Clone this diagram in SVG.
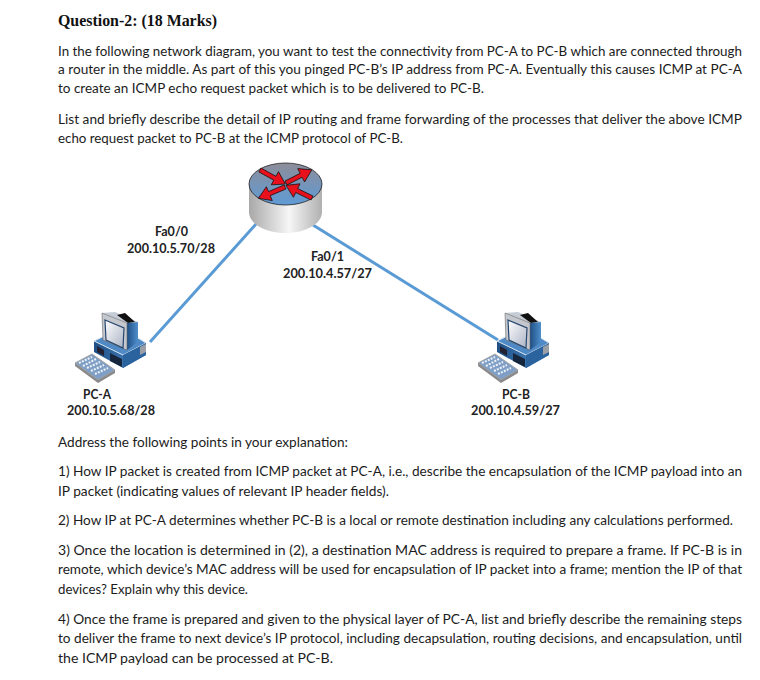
<svg xmlns="http://www.w3.org/2000/svg" xmlns:xlink="http://www.w3.org/1999/xlink" width="760" height="680" viewBox="0 0 760 680">
<style>
.t{font-family:"Lato","Open Sans","Liberation Sans",sans-serif;font-size:13.6px;fill:#1c1c1c}
.l{font-family:"Lato","Open Sans","Liberation Sans",sans-serif;font-size:12.6px;font-weight:700;fill:#222}
.h{font-family:"Liberation Serif",serif;font-size:16px;font-weight:700;fill:#111}
.c{stroke:#5b9bd5;stroke-width:3;fill:none}
.ar{fill:#e8101c;stroke:#111;stroke-width:.7}
</style>
<defs>
<linearGradient id="rs" x1="0" x2="1" y1="0" y2="0"><stop offset="0" stop-color="#a8a8a8"/><stop offset=".55" stop-color="#f6f6f6"/><stop offset="1" stop-color="#b0b0b0"/></linearGradient>
<linearGradient id="rt" x1="0" x2="0" y1="0" y2="1"><stop offset="0" stop-color="#8d8d99"/><stop offset="1" stop-color="#5f9bd6"/></linearGradient>
<linearGradient id="pb" x1="0" x2="1" y1="0" y2="0"><stop offset="0" stop-color="#1f4f86"/><stop offset="1" stop-color="#4f8fcb"/></linearGradient>
<linearGradient id="sc" x1="0" x2="1" y1="0" y2="1"><stop offset="0" stop-color="#ffffff"/><stop offset="1" stop-color="#aab2c4"/></linearGradient>
<path id="arrow" class="ar" d="M0 -2.200L17 -2.200L17 -7.500L29 0L17 7.500L17 2.200L0 2.200Z"/>
<g id="pc">
<path d="M94 341L123 355L146 343V355L123 368L94 352Z" fill="url(#pb)"/>
<path d="M94 341L113 332L133 335L146 343L123 355Z" fill="#4f8ac6" stroke="#d5e2ee" stroke-width="1"/>
<path d="M123 355L146 343V355L123 368Z" fill="#2b639e"/>
<path d="M140 347L146 344V352L140 355Z" fill="#9aa0a6"/>
<path d="M97 346L104 350V356L97 352Z" fill="#223"/>
<path d="M110 353L122 359V367L110 361Z" fill="#16263c"/>
<path d="M102 313L115 312L138 322L127 323Z" fill="#c5ccd6"/>
<path d="M117 315L125 313L135 322L128 323Z" fill="#111"/>
<path d="M127 323L138 322V342L127 350Z" fill="url(#pb)"/>
<path d="M102 313L127 323V350L103 340Z" fill="#c4c8ce" stroke="#666" stroke-width=".6"/>
<path d="M105 320L124 328L123 348L106 340Z" fill="url(#sc)" stroke="#27476e" stroke-width="1.200"/>
<path d="M75 363L92 354L115 370L98 380Z" fill="#7f9fc6" stroke="#a5a5a5" stroke-width="1"/>
<path d="M75 363L98 380L115 370V373L98 383L75 366Z" fill="#8a8a8a"/>
<path d="M79 363L92 357M83 366L96 359M87 368L100 362M91 371L104 365M95 374L108 368" stroke="#eef3fa" stroke-width="2" stroke-dasharray="2 1.200" fill="none"/>
</g>
</defs>
<rect width="760" height="680" fill="#fff"/>
<g id="connectors">
<path class="c" d="M150 342L257 223"/>
<path class="c" d="M313 225L498 340"/>
</g>
<g id="router">
<path d="M249 184V212C249 224 266 233 285.500 233C305 233 322 224 322 212V184Z" fill="url(#rs)"/>
<ellipse cx="285.500" cy="184" rx="36.500" ry="21" fill="url(#rt)" stroke="#222" stroke-width=".8"/>
<use href="#arrow" xlink:href="#arrow" transform="translate(260 170) rotate(29)"/>
<use href="#arrow" xlink:href="#arrow" transform="translate(286 183) rotate(-27)"/>
<use href="#arrow" xlink:href="#arrow" transform="translate(312 198) rotate(-154)"/>
<use href="#arrow" xlink:href="#arrow" transform="translate(285 187) rotate(157)"/>
</g>
<g id="pc-a">
<use href="#pc" xlink:href="#pc"/>
<text class="l" x="83" y="399" textLength="28" lengthAdjust="spacingAndGlyphs">PC-A</text>
<text class="l" x="67" y="415" textLength="88" lengthAdjust="spacingAndGlyphs">200.10.5.68/28</text>
</g>
<g id="pc-b">
<use href="#pc" xlink:href="#pc" x="403"/>
<text class="l" x="502" y="399" textLength="28" lengthAdjust="spacingAndGlyphs">PC-B</text>
<text class="l" x="471" y="415" textLength="89" lengthAdjust="spacingAndGlyphs">200.10.4.59/27</text>
</g>
<g id="labels">
<text class="l" x="155" y="236" textLength="33" lengthAdjust="spacingAndGlyphs">Fa0/0</text>
<text class="l" x="127" y="253" textLength="88" lengthAdjust="spacingAndGlyphs">200.10.5.70/28</text>
<text class="l" x="311" y="261" textLength="33" lengthAdjust="spacingAndGlyphs">Fa0/1</text>
<text class="l" x="283" y="278" textLength="89" lengthAdjust="spacingAndGlyphs">200.10.4.57/27</text>
</g>
<g id="text">
<text class="h" x="58" y="26" textLength="159" lengthAdjust="spacingAndGlyphs">Question-2: (18 Marks)</text>
<text class="t" x="58" y="56" textLength="684" lengthAdjust="spacingAndGlyphs">In the following network diagram, you want to test the connectivity from PC-A to PC-B which are connected through</text>
<text class="t" x="58" y="74" textLength="684" lengthAdjust="spacingAndGlyphs">a router in the middle. As part of this you pinged PC-B’s IP address from PC-A. Eventually this causes ICMP at PC-A</text>
<text class="t" x="58" y="93" textLength="426" lengthAdjust="spacingAndGlyphs">to create an ICMP echo request packet which is to be delivered to PC-B.</text>
<text class="t" x="58" y="124" textLength="684" lengthAdjust="spacingAndGlyphs">List and briefly describe the detail of IP routing and frame forwarding of the processes that deliver the above ICMP</text>
<text class="t" x="58" y="143" textLength="345" lengthAdjust="spacingAndGlyphs">echo request packet to PC-B at the ICMP protocol of PC-B.</text>
<text class="t" x="58" y="447" textLength="290" lengthAdjust="spacingAndGlyphs">Address the following points in your explanation:</text>
<text class="t" x="58" y="476" textLength="684" lengthAdjust="spacingAndGlyphs">1) How IP packet is created from ICMP packet at PC-A, i.e., describe the encapsulation of the ICMP payload into an</text>
<text class="t" x="58" y="496" textLength="331" lengthAdjust="spacingAndGlyphs">IP packet (indicating values of relevant IP header fields).</text>
<text class="t" x="58" y="525" textLength="675" lengthAdjust="spacingAndGlyphs">2) How IP at PC-A determines whether PC-B is a local or remote destination including any calculations performed.</text>
<text class="t" x="58" y="555" textLength="684" lengthAdjust="spacingAndGlyphs">3) Once the location is determined in (2), a destination MAC address is required to prepare a frame. If PC-B is in</text>
<text class="t" x="58" y="574" textLength="684" lengthAdjust="spacingAndGlyphs">remote, which device’s MAC address will be used for encapsulation of IP packet into a frame; mention the IP of that</text>
<text class="t" x="58" y="594" textLength="190" lengthAdjust="spacingAndGlyphs">devices? Explain why this device.</text>
<text class="t" x="58" y="624" textLength="684" lengthAdjust="spacingAndGlyphs">4) Once the frame is prepared and given to the physical layer of PC-A, list and briefly describe the remaining steps</text>
<text class="t" x="58" y="643" textLength="684" lengthAdjust="spacingAndGlyphs">to deliver the frame to next device’s IP protocol, including decapsulation, routing decisions, and encapsulation, until</text>
<text class="t" x="58" y="663" textLength="275" lengthAdjust="spacingAndGlyphs">the ICMP payload can be processed at PC-B.</text>
</g>
</svg>
